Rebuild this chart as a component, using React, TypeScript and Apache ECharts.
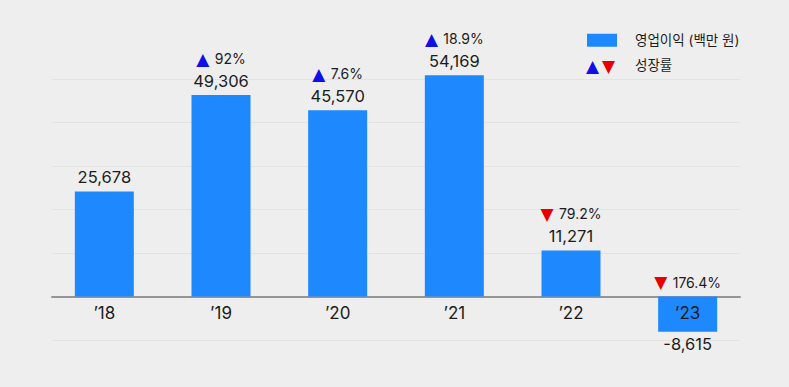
import React, { useEffect, useRef } from "react";
import * as echarts from "echarts";

const categories = ["’18", "’19", "’20", "’21", "’22", "’23"];
const profit = [25678, 49306, 45570, 54169, 11271, -8615];
const growth: (number | null)[] = [null, 92, 7.6, 18.9, -79.2, -176.4];

const AXIS_MIN = -10650;
const AXIS_MAX = 63900;
const AXIS_INTERVAL = 10650;

const SERIES_NAME = "영업이익 (백만 원)";
const GROWTH_NAME = "성장률";

const FONT = "Inter, 'Noto Sans CJK KR', 'Noto Sans', sans-serif";
const BAR_COLOR = "#1e88ff";
const UP_COLOR = "#1010e6";
const DOWN_COLOR = "#e60000";
const TEXT = "#1c1c1c";

export default function App() {
  const ref = useRef<HTMLDivElement>(null);

  useEffect(() => {
    if (!ref.current) return;
    const chart = echarts.init(ref.current, undefined, { renderer: "svg" });

    const gridTop = 35.5;
    const gridHeight = 304.5;
    // distance from grid bottom up to the zero line
    const zeroOffset = (gridHeight * (0 - AXIS_MIN)) / (AXIS_MAX - AXIS_MIN);

    const option: any = {
      animation: false,
      backgroundColor: "#eeeeee",
      textStyle: { fontFamily: FONT },
      grid: [
        { left: 52, width: 688, top: gridTop, height: gridHeight },
        { left: 46, width: 700, top: gridTop, height: gridHeight },
      ],
      xAxis: [
        {
          gridIndex: 0,
          type: "category",
          data: categories,
          axisLine: { show: true, onZero: true, lineStyle: { color: "#959595", width: 2 } },
          axisTick: { show: false },
          axisLabel: { show: false },
          splitLine: { show: false },
          z: 1,
        },
        {
          gridIndex: 1,
          type: "category",
          data: categories,
          position: "bottom",
          offset: -zeroOffset,
          axisLine: { show: false, onZero: false },
          axisTick: { show: false },
          axisLabel: {
            show: true,
            margin: 8,
            fontSize: 17,
            color: TEXT,
            fontFamily: FONT,
          },
          splitLine: { show: false },
          z: 10,
        },
      ],
      yAxis: [
        {
          gridIndex: 0,
          type: "value",
          min: AXIS_MIN,
          max: AXIS_MAX,
          interval: AXIS_INTERVAL,
          axisLine: { show: false },
          axisTick: { show: false },
          axisLabel: { show: false },
          splitLine: {
            show: true,
            showMinLine: true,
            showMaxLine: false,
            lineStyle: { color: "#e3e3e3", width: 1 },
          },
        },
        {
          gridIndex: 1,
          type: "value",
          min: AXIS_MIN,
          max: AXIS_MAX,
          interval: AXIS_INTERVAL,
          axisLine: { show: false },
          axisTick: { show: false },
          axisLabel: { show: false },
          splitLine: { show: false },
        },
      ],
      legend: {
        orient: "vertical",
        left: 587,
        top: 33.5,
        padding: 0,
        itemWidth: 30,
        itemHeight: 13,
        itemGap: 11,
        selectedMode: false,
        textStyle: {
          fontSize: 13.5,
          color: TEXT,
          fontFamily: FONT,
          padding: [0, 0, 0, 13],
        },
        data: [
          { name: SERIES_NAME, icon: "rect", itemStyle: { color: BAR_COLOR } },
          { name: GROWTH_NAME, icon: "none" },
        ],
      },
      graphic: [
        {
          type: "text",
          x: 586,
          y: 66,
          silent: true,
          style: {
            text: "▲",
            fill: UP_COLOR,
            font: "17px 'DejaVu Sans'",
            verticalAlign: "middle",
            align: "left",
          },
        },
        {
          type: "text",
          x: 602,
          y: 66,
          silent: true,
          style: {
            text: "▼",
            fill: DOWN_COLOR,
            font: "17px 'DejaVu Sans'",
            verticalAlign: "middle",
            align: "left",
          },
        },
      ],
      series: [
        {
          name: SERIES_NAME,
          type: "bar",
          xAxisIndex: 1,
          yAxisIndex: 1,
          barWidth: 59,
          itemStyle: { color: BAR_COLOR },
          z: 2,
          label: {
            show: true,
            position: "top",
            distance: 6,
            fontSize: 16.5,
            color: TEXT,
            fontFamily: FONT,
            formatter: (p: any) => Number(p.value).toLocaleString("en-US"),
          },
          data: profit.map((v) =>
            v < 0 ? { value: v, label: { position: "bottom", distance: 4 } } : { value: v }
          ),
        },
        {
          name: GROWTH_NAME,
          type: "bar",
          xAxisIndex: 1,
          yAxisIndex: 1,
          barWidth: 59,
          barGap: "-100%",
          silent: true,
          itemStyle: { color: "rgba(0,0,0,0)" },
          z: 3,
          label: {
            show: true,
            position: "top",
            fontFamily: FONT,
            formatter: (p: any) => {
              const g = growth[p.dataIndex];
              if (g === null || g === undefined) return "";
              const arrow = g >= 0 ? "{u|▲}" : "{d|▼}";
              return arrow + " {t|" + Math.abs(g) + "%}";
            },
            rich: {
              u: { color: UP_COLOR, fontSize: 17, fontFamily: "DejaVu Sans" },
              d: { color: DOWN_COLOR, fontSize: 17, fontFamily: "DejaVu Sans" },
              t: { color: TEXT, fontSize: 14, fontFamily: FONT, padding: [0, 0, 0, 2] },
            },
          },
          data: profit.map((v) => ({
            value: v,
            label: { distance: v >= 0 ? 28 : 6 },
          })),
        },
      ],
    };

    chart.setOption(option);
    return () => chart.dispose();
  }, []);

  return (
    <div
      ref={ref}
      style={{
        position: "fixed",
        left: 0,
        top: 0,
        width: 789,
        height: 387,
        background: "#eeeeee",
      }}
    />
  );
}
